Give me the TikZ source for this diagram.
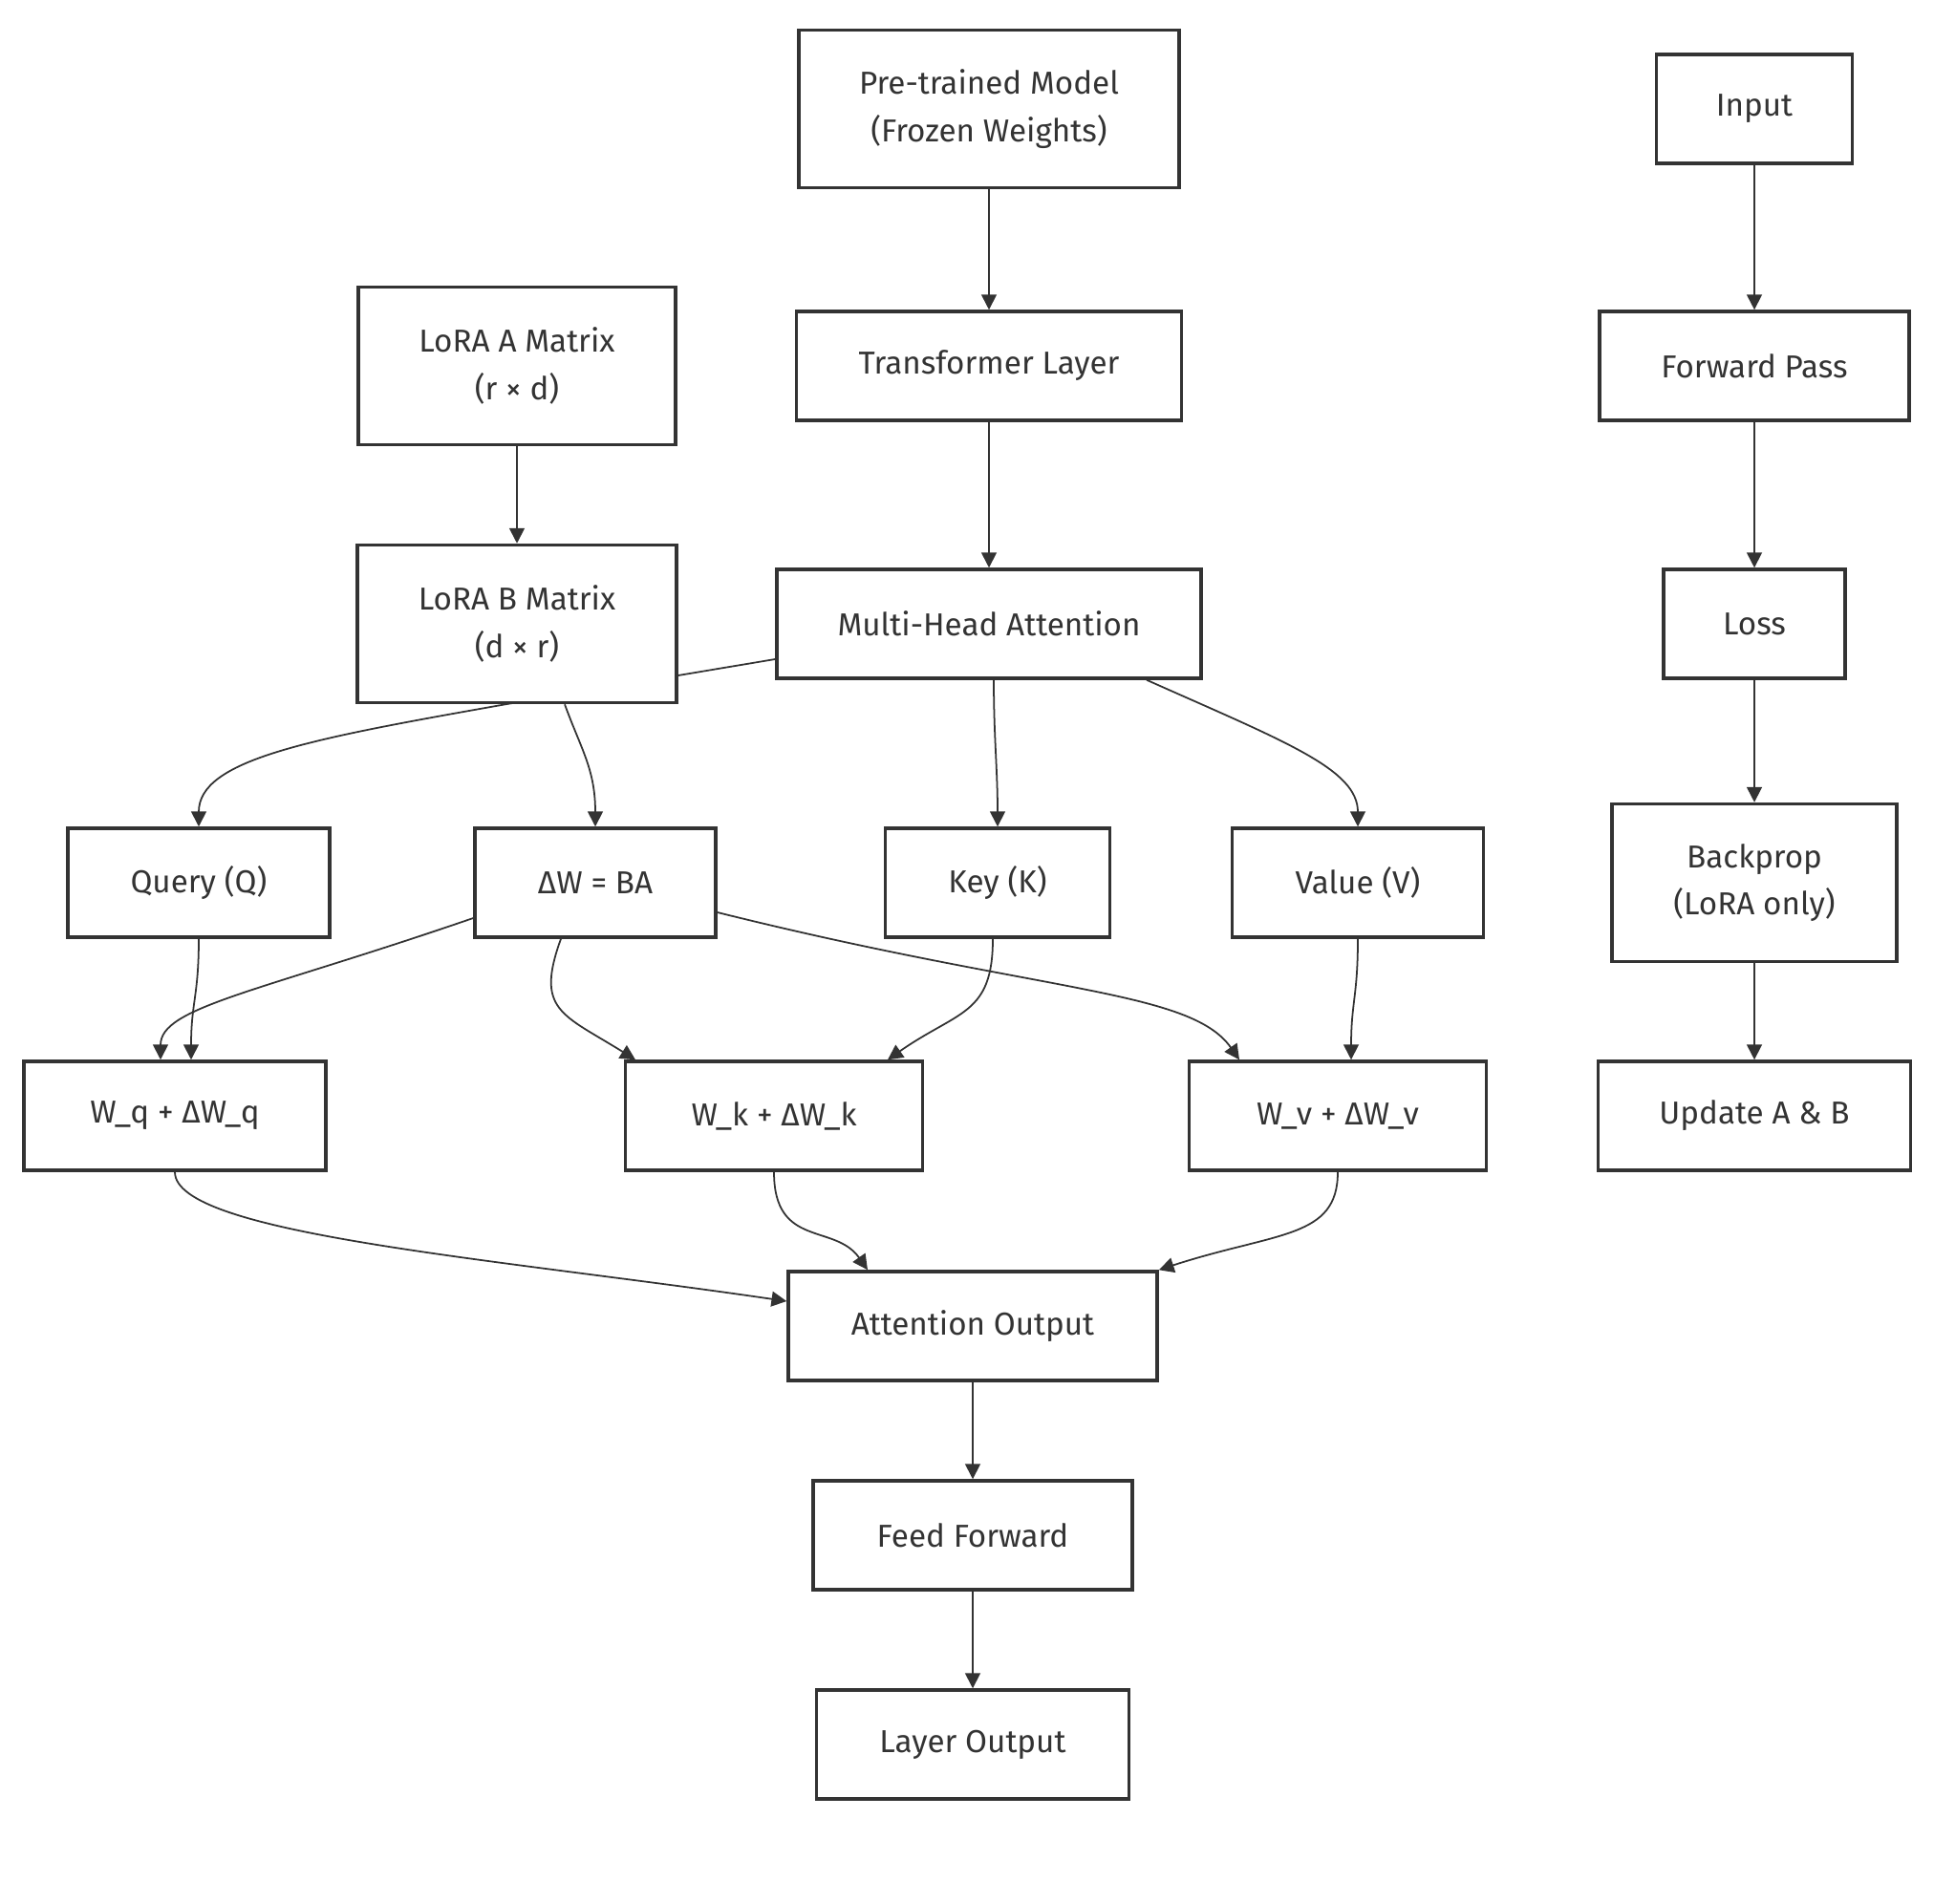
\documentclass[tikz,border=0pt]{standalone}
\usepackage{fontspec}
\setmainfont{Fira Sans}
\usetikzlibrary{positioning, calc}
\usetikzlibrary{arrows.meta}
\usetikzlibrary{backgrounds}

\definecolor{ink}{HTML}{333333}

\tikzset{
  box/.style={draw=ink, line width=1pt, fill=white, text=ink, align=center,
    minimum height=1.14cm, inner sep=0pt, font=\fontsize{9.45}{14}\selectfont},
  tallbox/.style={box, minimum height=1.65cm},
  arr/.style={draw=ink, line width=0.5pt, -{Triangle[length=4.5pt,width=4.5pt]}},
}

\begin{document}
\begin{tikzpicture}
    \useasboundingbox (0,0) rectangle (20.24,-19.92);
    % transformer column
    \node[tallbox, minimum width=3.98cm] (ptm) at (10.35,-1.14) {Pre-trained Model\\(Frozen Weights)};
    \node[box, minimum width=4.03cm] (tl) at (10.35,-3.83) {Transformer Layer};
    \node[box, minimum width=4.44cm] (mha) at (10.35,-6.53) {Multi-Head Attention};
    % lora matrices
    \node[tallbox, minimum width=3.32cm] (loraA) at (5.41,-3.83) {LoRA A Matrix\\(r × d)};
    \node[tallbox, minimum width=3.34cm] (loraB) at (5.41,-6.53) {LoRA B Matrix\\(d × r)};
    % heads
    \node[box, minimum width=2.74cm] (qry) at (2.08,-9.24) {Query (Q)};
    \node[box, minimum width=2.52cm] (dw) at (6.23,-9.24) {ΔW = BA};
    \node[box, minimum width=2.35cm] (key) at (10.44,-9.24) {Key (K)};
    \node[box, minimum width=2.63cm] (val) at (14.21,-9.24) {Value (V)};
    \node[box, minimum width=3.16cm] (wq) at (1.83,-11.68) {W\_q + ΔW\_q};
    \node[box, minimum width=3.11cm] (wk) at (8.10,-11.68) {W\_k + ΔW\_k};
    \node[box, minimum width=3.11cm] (wv) at (14.00,-11.68) {W\_v + ΔW\_v};
    \node[box, minimum width=3.86cm] (ao) at (10.18,-13.88) {Attention Output};
    \node[box, minimum width=3.34cm] (ff) at (10.18,-16.07) {Feed Forward};
    \node[box, minimum width=3.27cm] (lo) at (10.18,-18.26) {Layer Output};
    % training loop
    \node[box, minimum width=2.05cm] (inp) at (18.36,-1.14) {Input};
    \node[box, minimum width=3.24cm] (fwd) at (18.36,-3.83) {Forward Pass};
    \node[box, minimum width=1.90cm] (loss) at (18.36,-6.53) {Loss};
    \node[tallbox, minimum width=2.98cm] (bp) at (18.36,-9.24) {Backprop\\(LoRA only)};
    \node[box, minimum width=3.27cm] (upd) at (18.36,-11.68) {Update A \& B};

    \begin{scope}[on background layer]
        \fill[white] (0,0) rectangle (20.24,-19.92);
        \foreach \a/\b in {ptm/tl, tl/mha, loraA/loraB, ao/ff, ff/lo, inp/fwd, fwd/loss, loss/bp, bp/upd}
            \draw[arr] (\a) -- (\b);
        % passes behind the B matrix
        \draw[arr] ($(mha.west)+(0,-0.37)$) -- ($(loraB.south)+(-0.12,0)$) .. controls +(190:2.1) and +(0,0.7) .. (qry.north);
        \draw[arr] ($(loraB.south)+(0.5,0)$) .. controls +(-70:0.5) and +(0,0.6) .. (dw.north);
        \draw[arr] ($(mha.south)+(0.05,0)$) .. controls +(0,-0.6) and +(0,0.6) .. (key.north);
        \draw[arr] ($(mha.south)+(1.65,0)$) .. controls +(-24:1.6) and +(0,0.6) .. (val.north);
        % into the adapted weights
        \draw[arr] (qry.south) .. controls +(0,-0.6) and +(0,0.6) .. ($(wq.north)+(0.17,0)$);
        \draw[arr] ($(dw.west)+(0,-0.37)$) .. controls +(199:2.4) and +(0,0.55) .. ($(wq.north)+(-0.15,0)$);
        \draw[arr] ($(dw.south)+(-0.36,0)$) .. controls +(-110:0.8) and +(148:0.9) .. ($(wk.north)+(-1.45,0)$);
        \draw[arr] ($(key.south)+(-0.05,0)$) .. controls +(0,-0.8) and +(35:0.9) .. ($(wk.north)+(1.19,0)$);
        \draw[arr] ($(dw.east)+(0,-0.31)$) .. controls +(-14:3.5) and +(125:0.9) .. ($(wv.north)+(-1.03,0)$);
        \draw[arr] (val.south) .. controls +(0,-0.6) and +(0,0.6) .. ($(wv.north)+(0.14,0)$);
        % merge
        \draw[arr] (wq.south) .. controls +(0,-0.65) and +(-3.07,0.45) .. ($(ao.west)+(0,0.26)$);
        \draw[arr] (wk.south) .. controls +(0,-0.8) and +(125:0.6) .. ($(ao.north)+(-1.10,0)$);
        \draw[arr] (wv.south) .. controls +(0,-0.7) and +(18:1.3) .. (ao.north east);
    \end{scope}
\end{tikzpicture}
\end{document}
